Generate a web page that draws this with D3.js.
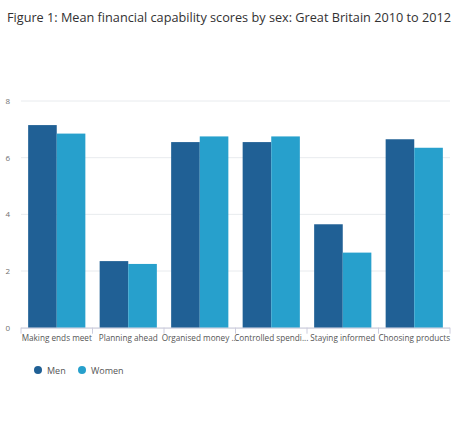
<!DOCTYPE html><html><head><meta charset="utf-8"><script src="https://cdn.jsdelivr.net/npm/d3@7"></script>
<style>body{margin:0;background:#fff;font-family:"Open Sans",sans-serif}</style></head><body><svg id="c" width="474" height="429"></svg><script>
const categories=["Making ends meet","Planning ahead","Organised money ...","Controlled spendi...","Staying informed","Choosing products"];
const series=["Men","Women"];
const men=[7.15,2.35,6.55,6.55,3.65,6.65];
const women=[6.85,2.25,6.75,6.75,2.65,6.35];
const yTicks=[0,2,4,6,8];
const colors=["#206095","#27a0cc"];
const svg=d3.select("#c");
svg.append("text").attr("x",7).attr("y",22).attr("font-size",12.6).attr("textLength",444).attr("lengthAdjust","spacingAndGlyphs").attr("fill","#323132").text("Figure 1: Mean financial capability scores by sex: Great Britain 2010 to 2012");
const x=d3.scaleBand().domain(categories).range([21,450]).paddingInner(0.2).paddingOuter(0.1);
const x1=d3.scaleBand().domain(series).range([0,x.bandwidth()]);
const y=d3.scaleLinear().domain([0,8]).range([327.7,101]);
const g=svg.append("g");
g.selectAll(".gl").data(yTicks).join("line").attr("x1",21).attr("x2",450).attr("y1",d=>y(d)).attr("y2",d=>y(d)).attr("stroke","#e8ebee");
g.selectAll(".yt").data(yTicks).join("text").attr("x",10).attr("y",d=>y(d)+3).attr("text-anchor","end").attr("font-size",8).attr("fill","#707071").text(d=>d);
const data=categories.map((c,i)=>({c,v:[men[i],women[i]]}));
data.forEach(d=>d.v.forEach((v,j)=>{g.append("rect").attr("x",x(d.c)+x1(series[j])).attr("width",x1.bandwidth()).attr("y",y(v)).attr("height",y(0)-y(v)).attr("fill",colors[j]);}));
g.append("line").attr("x1",21).attr("x2",450).attr("y1",y(0)+0.5).attr("y2",y(0)+0.5).attr("stroke","#ccd");
const step=(450-21)/6;
d3.range(7).forEach(i=>g.append("line").attr("x1",21+i*step).attr("x2",21+i*step).attr("y1",y(0)).attr("y2",y(0)+6).attr("stroke","#ccd"));
categories.forEach((c,i)=>g.append("text").attr("x",21+step*(i+0.5)).attr("y",341).attr("text-anchor","middle").attr("font-size",8.2).attr("fill","#555").text(c));
series.forEach((s,j)=>{const lx=[38,82][j];g.append("circle").attr("cx",lx).attr("cy",370).attr("r",4).attr("fill",colors[j]);g.append("text").attr("x",lx+9).attr("y",373.5).attr("font-size",9).attr("fill","#555").text(s);});
</script></body></html>
